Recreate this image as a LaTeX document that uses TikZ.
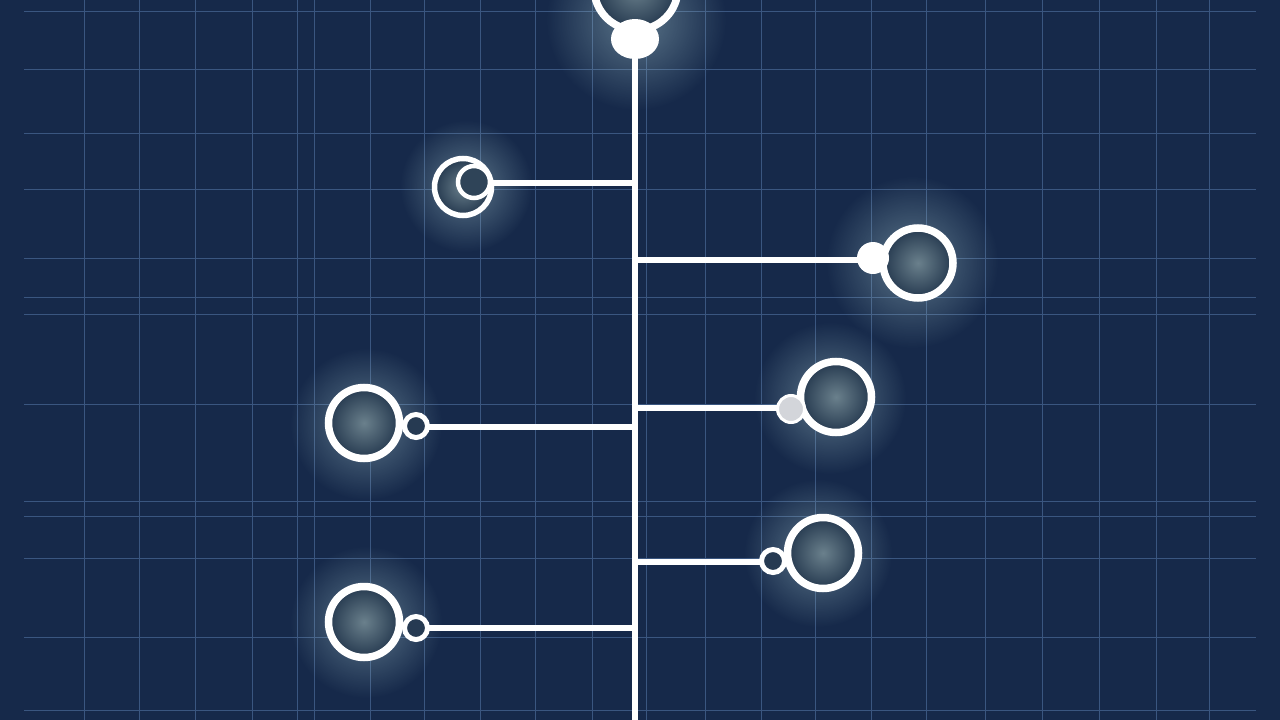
\documentclass[tikz,border=0pt]{standalone}
\usetikzlibrary{fadings}
\definecolor{bg}{HTML}{16294A}
\definecolor{gridc}{HTML}{3A5680}
\definecolor{ringin}{HTML}{6A808C}
\definecolor{ringout}{HTML}{25394F}
\definecolor{smallin}{HTML}{263A52}
\definecolor{glowc}{HTML}{B0D4D8}
\definecolor{dotgray}{HTML}{D3D5DA}
\tikzfading[name=glowfade, inner color=transparent!0, outer color=transparent!100]
\tikzset{
  gridline/.style={draw=gridc, line width=0.9pt},
  glow/.style={fill=glowc, path fading=glowfade, fill opacity=0.45},
  spine/.style={draw=white, line width=6.5pt},
  branch/.style={draw=white, line width=6.5pt},
  bigring/.style={circle, draw=white, line width=7.5pt, inner sep=0pt, shading=radial, inner color=ringin, outer color=ringout},
  smallring/.style={circle, draw=white, line width=5pt, inner sep=0pt, fill=smallin, minimum size=23pt},
  whitedot/.style={circle, fill=white, inner sep=0pt},
}
\begin{document}
\begin{tikzpicture}[x=1pt,y=-1pt]
\useasboundingbox (0,0) rectangle (1280,720);
\fill[bg] (0,0) rectangle (1280,720);
% grid
\foreach \x in {84,139,195,252,297,314,370,424,480,535,592,646,705,761,815,871,926,985,1042,1099,1156,1209}
  \draw[gridline] (\x,0) -- (\x,720);
\foreach \y in {11,69,133,189,258,297,314,404,501,516,558,637,710}
  \draw[gridline] (24,\y) -- (1256,\y);
% glows
\foreach \cx/\cy/\r in {636/20/90, 466/186/66, 912/262/86, 366/424/76, 830/398/76, 818/553/74, 366/622/76}
  \fill[glow] (\cx,\cy) circle (\r);
% spine
\coordinate (blob) at (635,39);
\coordinate (bot) at (635,720);
\draw[spine] (blob) -- (bot);
% junctions on spine
\coordinate (j1) at (635,183);
\coordinate (j2) at (635,260);
\coordinate (j3) at (635,427);
\coordinate (j4) at (635,408);
\coordinate (j5) at (635,562);
\coordinate (j6) at (635,628);
% ends of the branches
\coordinate (e1) at (489,183);
\coordinate (e2) at (873,260);
\coordinate (e3) at (428,427);
\coordinate (e4) at (800,408);
\coordinate (e5) at (785,562);
\coordinate (e6) at (428,628);
% branches
\draw[branch] (j1) -- (e1);
\draw[branch] (j2) -- (e2);
\draw[branch] (j3) -- (e3);
\draw[branch] (j4) -- (e4);
\draw[branch] (j5) -- (e5);
\draw[branch] (j6) -- (e6);
% nodes
\node[bigring, minimum size=84pt] (top) at (636,-12) {};
\fill[white] (blob) ellipse (24 and 20);

\node[bigring, line width=5.5pt, minimum size=57pt] (l1) at (463,187) {};
\node[circle, draw=white, line width=4.5pt, inner sep=0pt, minimum size=32pt, fill=ringout!85!ringin] (cr) at (474,182) {};

\node[bigring, minimum size=70pt] (r1) at (918,263) {};
\node[whitedot, minimum size=32pt] (d1) at (873,258) {};

\node[bigring, minimum size=71pt] (l2) at (364,423) {};
\node[smallring] (s2) at (416,426) {};

\node[bigring, minimum size=71pt] (r2) at (836,397) {};
\node[circle, draw=white, line width=3pt, fill=dotgray, inner sep=0pt, minimum size=27pt] (d2) at (791,409) {};

\node[bigring, minimum size=71pt] (r3) at (823,553) {};
\node[smallring] (s3) at (773,561) {};

\node[bigring, minimum size=71pt] (l3) at (364,622) {};
\node[smallring] (s4) at (416,628) {};
\end{tikzpicture}
\end{document}
